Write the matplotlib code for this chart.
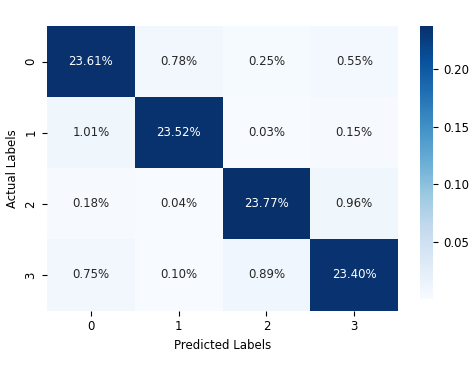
import matplotlib
matplotlib.use('Agg')
import matplotlib.pyplot as plt
import numpy as np
import seaborn as sns

# confusion matrix, fraction of all test images
labels = ['0', '1', '2', '3']
row_0 = [0.2361, 0.0078, 0.0025, 0.0055]
row_1 = [0.0101, 0.2352, 0.0003, 0.0015]
row_2 = [0.0018, 0.0004, 0.2377, 0.0096]
row_3 = [0.0075, 0.0010, 0.0089, 0.2340]
cm = np.array([row_0, row_1, row_2, row_3])

fig = plt.figure(figsize=(4.74, 3.76), dpi=100)
ax = fig.add_axes([0.099, 0.174, 0.741, 0.757])
cax = fig.add_axes([0.886, 0.205, 0.028, 0.726])

sns.heatmap(cm, annot=True, fmt='.2%', cmap='Blues', ax=ax, cbar_ax=cax,
            xticklabels=labels, yticklabels=labels,
            annot_kws={'fontsize': 8.5})
ax.set_xlabel('Predicted Labels', fontsize=8.5)
ax.set_ylabel('Actual Labels', fontsize=8.5)
ax.tick_params(labelsize=8.5)
cax.tick_params(labelsize=8.5)
cax.set_yticks([0.05, 0.10, 0.15, 0.20])
cax.yaxis.set_major_formatter(matplotlib.ticker.FormatStrFormatter('%.2f'))
for s in cax.spines.values():
    s.set_visible(False)

fig.savefig('out.png', dpi=100)
